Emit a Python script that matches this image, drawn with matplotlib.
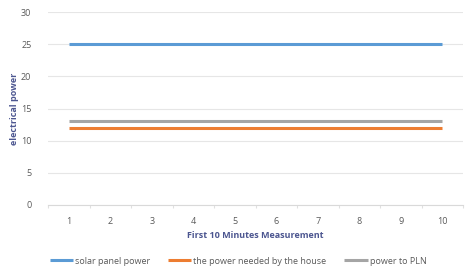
import matplotlib
matplotlib.use("Agg")
import matplotlib.pyplot as plt

minutes = [1, 2, 3, 4, 5, 6, 7, 8, 9, 10]
solar_panel_power = [25, 25, 25, 25, 25, 25, 25, 25, 25, 25]
house_power = [12, 12, 12, 12, 12, 12, 12, 12, 12, 12]
pln_power = [13, 13, 13, 13, 13, 13, 13, 13, 13, 13]
series_names = ["solar panel power", "the power needed by the house", "power to PLN"]
y_ticks = [0, 5, 10, 15, 20, 25, 30]

plt.rcParams['font.family'] = ['Open Sans', 'DejaVu Sans']

fig = plt.figure(figsize=(4.74, 2.77), dpi=100)
ax = fig.add_axes([48/474, 1-205/277, (463-48)/474, (205-12)/277])

lw = 2.2
ax.plot(minutes, solar_panel_power, color='#5B9BD5', lw=lw, label=series_names[0], solid_capstyle='butt')
ax.plot(minutes, house_power, color='#ED7D31', lw=lw, label=series_names[1], solid_capstyle='butt')
ax.plot(minutes, pln_power, color='#A5A5A5', lw=lw, label=series_names[2], solid_capstyle='butt')

ax.set_xlim(0.5, 10.5)
ax.set_ylim(0, 30)
ax.set_yticks(y_ticks)
ax.set_xticks(minutes)
ax.set_xticks([m + 0.5 for m in [0] + minutes], minor=True)
ax.tick_params(axis='x', which='major', length=0, labelsize=6.5, labelcolor='#595959', pad=9)
ax.tick_params(axis='x', which='minor', length=2.5, color='#E0E0E0', width=0.8)
ax.tick_params(axis='y', length=0, labelsize=6.5, labelcolor='#595959', pad=12)
ax.yaxis.grid(True, color='#E6E6E6', lw=0.8)
ax.set_axisbelow(True)
for s in ['top', 'right', 'left']:
    ax.spines[s].set_visible(False)
ax.spines['bottom'].set_color('#D9D9D9')
ax.spines['bottom'].set_linewidth(0.8)

label_color = '#4C5690'
ax.set_ylabel('electrical power', fontsize=6.5, color=label_color, fontweight='bold', labelpad=2)
ax.yaxis.set_label_coords(-0.07, 0.5)
ax.set_xlabel('First 10 Minutes Measurement', fontsize=6.5, color=label_color, fontweight='bold', labelpad=3)

fig.legend(loc='center', bbox_to_anchor=(238/474, 1-261/277), ncol=3, frameon=False,
           fontsize=6.5, labelcolor='#595959', handlelength=2.6, handletextpad=0.2,
           columnspacing=2.0)

fig.savefig('out.png', dpi=100)
